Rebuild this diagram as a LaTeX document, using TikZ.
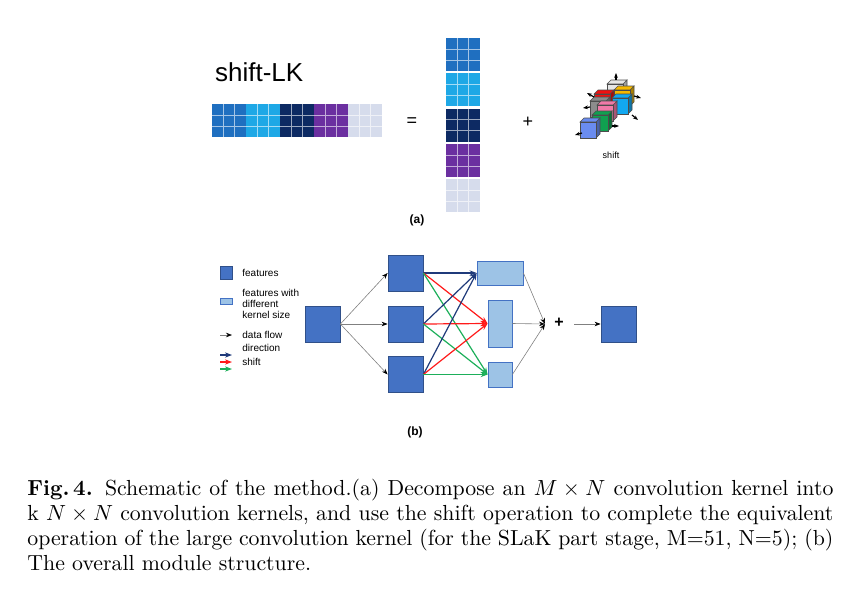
\documentclass[tikz,border=0pt]{standalone}
\usepackage{fontspec}
\setsansfont{Liberation Sans}
\usepackage{amsmath}
\usetikzlibrary{arrows.meta}
\definecolor{kblue}{HTML}{1F6FC0}
\definecolor{klight}{HTML}{1EA8E6}
\definecolor{knavy}{HTML}{0D2A63}
\definecolor{kpurple}{HTML}{6B2FA0}
\definecolor{klav}{HTML}{D6DCEC}
\definecolor{feat}{HTML}{4472C4}
\definecolor{featlt}{HTML}{9DC3E6}
\definecolor{shnavy}{HTML}{1F3A7A}
\definecolor{shred}{HTML}{FF1A1A}
\definecolor{shgreen}{HTML}{1DAF5A}
\definecolor{cwhite}{HTML}{E6E6E6}
\definecolor{cyellow}{HTML}{F5B800}
\definecolor{cred}{HTML}{F01010}
\definecolor{ccyan}{HTML}{12A8F0}
\definecolor{cgray}{HTML}{8C8C8C}
\definecolor{cpink}{HTML}{F07AA8}
\definecolor{cgreen}{HTML}{10A050}
\definecolor{cblue}{HTML}{6A8CF0}
\tikzset{
  feature/.style={draw=feat!70!black, fill=feat, inner sep=0pt},
  kfeature/.style={draw=feat, fill=featlt, inner sep=0pt},
  flow/.style={gray, line width=0.3pt, -{Stealth[length=3pt,black]}},
  shiftarrow/.style={line width=0.6pt, -{Stealth[length=3.5pt]}},
  label/.style={font=\sffamily\fontsize{5}{6}\selectfont, align=left, anchor=west, inner sep=0pt},
  cube/.style={draw=black!70, line width=0.3pt}
}
% one 3x3 kernel block, lower left corner at #1, fill #2
\newcommand{\kblock}[2]{%
  \begin{scope}[shift={(#1)}]
    \fill[#2] (0,0) rectangle (34,-33);
    \foreach \g in {11.33,22.67} \draw[white!60!#2, line width=0.4pt] (\g,0) -- (\g,-33);
    \foreach \g in {-11,-22} \draw[white!60!#2, line width=0.4pt] (0,\g) -- (34,\g);
  \end{scope}
}
% small cube of the shift icon
\newcommand{\scube}[3]{%
  \filldraw[fill=#3!70!black, cube] (#1+16,#2) -- ++(4,-4) -- ++(0,-16) -- ++(-4,4) -- cycle;
  \filldraw[fill=#3, cube] (#1,#2-16) -- ++(4,-4) -- ++(16,0) -- ++(-4,4) -- cycle;
  \filldraw[fill=#3, cube] (#1,#2) rectangle ++(16,-16);
}
\begin{document}
\begin{tikzpicture}[x=0.5pt, y=-0.5pt]
  \useasboundingbox (0,0) rectangle (864,590);

  % ---------- (a) ----------
  \node (title) [font=\sffamily\fontsize{13}{15}\selectfont, anchor=west] at (208,72) {shift-LK};
  \foreach \c [count=\i from 0] in {kblue,klight,knavy,kpurple,klav} {
    \kblock{212+\i*34,137}{\c}
    \kblock{446,71+\i*35.3}{\c}
  }
  \node (eq) [font=\sffamily\fontsize{9}{10}\selectfont] at (412,122) {=};
  \node (plus) [font=\sffamily\fontsize{9}{10}\selectfont] at (528,122) {+};

  % shift icon
  \foreach \px/\py/\c in {607/100/cwhite, 614/106/cyellow, 594/110/cred,
      612/114/ccyan, 590/117/cgray, 597/121/cpink, 592/131/cgreen, 580/138/cblue} {
    \scube{\px}{\py}{\c}
  }
  \foreach \ax/\ay/\bx/\by in {616/80/616/73, 634/96/641/98, 594/97/587/93, 590/107/583/108,
      632/115/638/120, 612/126/619/126, 582/133/575/135} {
    \draw[-{Stealth[length=2.5pt]}, line width=0.6pt] (\ax,\ay) -- (\bx,\by);
  }
  \node (shiftlbl) [font=\sffamily\fontsize{4.5}{5}\selectfont] at (611,155) {shift};
  \node (pa) [font=\sffamily\bfseries\fontsize{6}{7}\selectfont] at (417,220) {(a)};

  % ---------- (b) legend ----------
  \node (lf) [feature, minimum width=6pt, minimum height=6.5pt] at (226,273) {};
  \node [label] at (242,273) {features};
  \node (lk) [kfeature, minimum width=6pt, minimum height=3pt] at (226,301) {};
  \node [label] at (242,304) {features with\\[-0.5pt]different\\[-0.5pt]kernel size};
  \coordinate (la0) at (220,335); \coordinate (la1) at (232,335);
  \draw[flow] (la0) -- (la1);
  \node [label] at (242,341) {data flow\\[0.5pt]direction};
  \foreach \c/\y in {shnavy/355, shred/362, shgreen/369} {
    \coordinate (s0) at (220,\y); \coordinate (s1) at (232,\y);
    \draw[shiftarrow, \c] (s0) -- (s1);
  }
  \node [label] at (242,362) {shift};

  % ---------- (b) network ----------
  \node (in) [feature, minimum width=17.5pt, minimum height=18pt] at (322.5,324) {};
  \node (m1) [feature, minimum width=17.5pt, minimum height=18pt] at (405.5,273) {};
  \node (m2) [feature, minimum width=17.5pt, minimum height=18pt] at (405.5,324) {};
  \node (m3) [feature, minimum width=17.5pt, minimum height=18pt] at (405.5,374.5) {};
  \node (k1) [kfeature, minimum width=23pt, minimum height=12pt] at (500,273) {};
  \node (k2) [kfeature, minimum width=12pt, minimum height=23.5pt] at (500,323.5) {};
  \node (k3) [kfeature, minimum width=12pt, minimum height=12.5pt] at (500,374.5) {};
  \coordinate (merge) at (545,324);
  \node (sum) [font=\sffamily\bfseries\fontsize{8}{9}\selectfont] at (559,323) {+};
  \node (out) [feature, minimum width=17.5pt, minimum height=18pt] at (618.5,324) {};

  \foreach \m in {m1,m2,m3} {
    \draw[flow] (in.east) -- (\m.west);
    \draw[shiftarrow, shnavy] (\m.east) -- (k1.west);
    \draw[shiftarrow, shred] (\m.east) -- (k2.west);
    \draw[shiftarrow, shgreen] (\m.east) -- (k3.west);
  }
  \foreach \k in {k1,k2,k3} {
    \draw[flow] (\k.east) -- (merge);
  }
  \coordinate (s2) at (574,324);
  \draw[flow] (s2) -- (out.west);
  \node (pb) [font=\sffamily\bfseries\fontsize{6}{7}\selectfont] at (415,432) {(b)};

  % ---------- caption ----------
  \node (cap) [anchor=north west, align=left, inner sep=0pt,
    font=\fontsize{10.9}{12.5}\selectfont] at (27,479)
    {\makebox[403pt][s]{\textbf{Fig.\,4.} Schematic of the method.(a) Decompose an $M\times N$ convolution kernel into}\\
     \makebox[403pt][s]{k $N\times N$ convolution kernels, and use the shift operation to complete the equivalent}\\
     \makebox[403pt][s]{operation of the large convolution kernel (for the SLaK part stage, M=51, N=5); (b)}\\
     The overall module structure.};
\end{tikzpicture}
\end{document}
